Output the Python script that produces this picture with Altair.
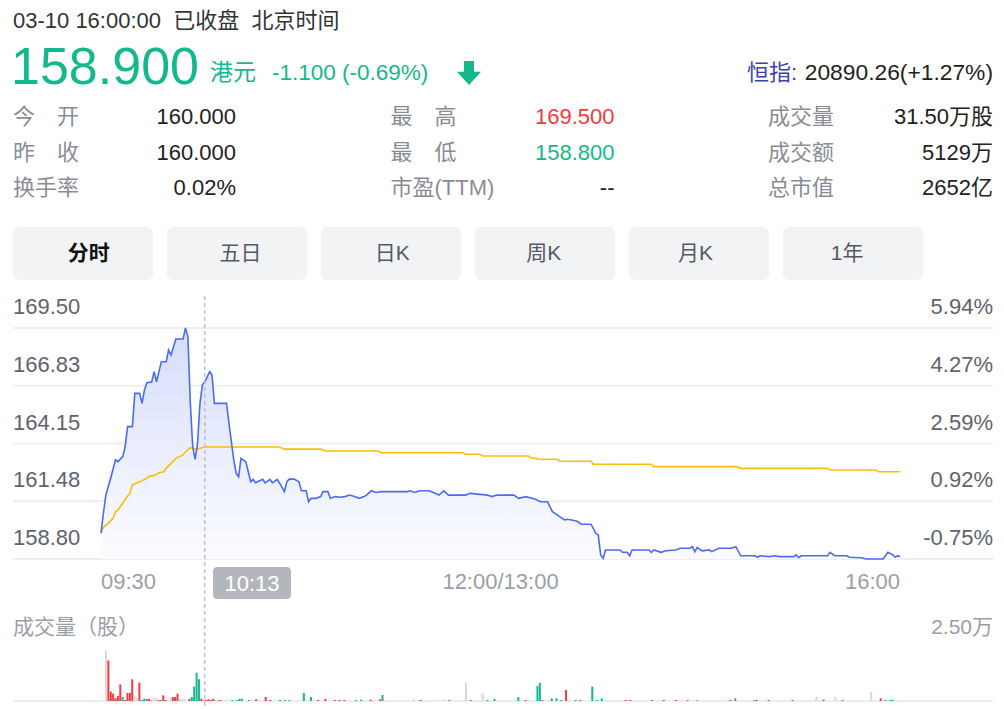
import altair as alt
import pandas as pd

FONT = "Liberation Sans, Arial, Noto Sans CJK SC, sans-serif"
GREEN = "#13b98c"
RED = "#f23b3b"
BLUE = "#4a6cf2"
YELLOW = "#fbbd08"
DARK = "#222222"
LABEL_GREY = "#8a8c94"
AXIS_GREY = "#5f636d"
TIME_GREY = "#9b9ea8"

# ---------------- header values ----------------
header_line = "03-10 16:00:00\u00a0\u00a0已收盘\u00a0\u00a0北京时间"
last_price = "158.900"
currency = "港元"
change_text = "-1.100 (-0.69%)"
index_name = "恒指:"
index_value = "20890.26(+1.27%)"

stat_labels = ["今\u3000开", "昨\u3000收", "换手率",
               "最\u3000高", "最\u3000低", "市盈(TTM)",
               "成交量", "成交额", "总市值"]
stat_values = ["160.000", "160.000", "0.02%",
               "169.500", "158.800", "--",
               "31.50万股", "5129万", "2652亿"]
stat_value_colors = [DARK, DARK, DARK, RED, GREEN, DARK, DARK, DARK, DARK]
stat_col = [0, 0, 0, 1, 1, 1, 2, 2, 2]
stat_row = [0, 1, 2, 0, 1, 2, 0, 1, 2]

tabs = ["分时", "五日", "日K", "周K", "月K", "1年"]
active_tab = "分时"

# ---------------- chart axes ----------------
price_ticks = [158.80, 161.48, 164.15, 166.83, 169.50]
pct_ticks = ["-0.75%", "0.92%", "2.59%", "4.27%", "5.94%"]
time_labels = ["09:30", "12:00/13:00", "16:00"]
time_label_pos = [0, 165.5, 331]
cursor_minute = 43
cursor_label = "10:13"
volume_title = "成交量（股）"
volume_max_label = "2.50万"

# ---------------- series (minute index, value) ----------------
price_points = [
    (0, 160.00), (1, 160.92), (2, 161.76), (4, 162.54), (6, 163.39), (7, 163.31),
    (9, 163.54), (10, 164.00), (11, 164.93), (13, 164.93), (14, 166.47), (16, 166.47),
    (17, 166.01), (18, 166.63), (19, 166.97), (21, 167.00), (22, 167.48), (23, 167.01),
    (25, 167.94), (27, 167.94), (28, 168.48), (29, 168.25), (31, 168.99), (34, 168.99),
    (35, 169.50), (36, 169.10), (37, 166.02), (38, 164.00), (39, 163.42), (40, 164.16),
    (41, 166.01), (42, 166.86), (43, 167.01), (44, 167.24), (45, 167.48), (46, 167.32),
    (47, 166.01), (52, 166.01), (53, 165.09), (55, 163.39), (56, 162.77), (57, 162.61),
    (58, 163.46), (60, 163.31), (61, 162.84), (62, 162.38), (63, 162.49), (64, 162.33),
    (67, 162.49), (68, 162.33), (70, 162.49), (71, 162.33), (73, 162.49), (74, 162.31),
    (76, 161.92), (77, 162.38), (78, 162.50), (80, 162.50), (82, 162.38), (83, 161.96),
    (85, 161.96), (86, 161.45), (87, 161.61), (89, 161.61), (91, 161.69), (92, 161.92),
    (94, 161.92), (95, 161.61), (97, 161.69), (99, 161.66), (101, 161.69), (103, 161.76),
    (105, 161.69), (107, 161.61), (109, 161.69), (110, 161.76), (112, 161.96), (114, 161.88),
    (116, 161.92), (120, 161.92), (127, 161.92), (128, 161.96), (130, 161.88), (132, 161.96),
    (136, 161.96), (140, 161.76), (142, 161.96), (144, 161.76), (151, 161.76), (153, 161.84),
    (160, 161.76), (162, 161.69), (164, 161.76), (171, 161.76), (173, 161.61), (176, 161.69),
    (180, 161.57), (182, 161.45), (185, 161.45), (187, 160.99), (189, 160.84), (190, 160.76),
    (192, 160.61), (193, 160.64), (195, 160.61), (197, 160.56), (199, 160.41), (203, 160.41),
    (205, 159.99), (206, 159.91), (207, 158.99), (208, 158.83), (209, 159.22), (215, 159.22),
    (216, 159.11), (218, 159.11), (219, 158.95), (220, 159.22), (227, 159.22), (228, 159.11),
    (229, 159.22), (232, 159.11), (234, 159.18), (238, 159.22), (240, 159.30), (244, 159.30),
    (245, 159.37), (246, 159.14), (247, 159.34), (249, 159.18), (252, 159.22), (253, 159.14),
    (256, 159.30), (261, 159.30), (263, 159.37), (265, 158.95), (271, 158.95), (272, 158.88),
    (273, 158.95), (277, 158.91), (279, 158.95), (281, 158.91), (287, 158.91), (288, 158.99),
    (289, 158.86), (290, 158.95), (301, 158.95), (302, 159.11), (304, 158.95), (309, 158.95),
    (310, 158.88), (315, 158.86), (317, 158.80), (324, 158.80), (326, 159.11), (328, 158.99),
    (329, 158.88), (330, 158.95), (331, 158.90),
]

avg_points = [
    (0, 160.00), (1, 160.27), (3, 160.45), (5, 160.69), (6, 160.99), (7, 161.07),
    (9, 161.38), (11, 161.72), (12, 161.84), (13, 162.23), (15, 162.33), (17, 162.43),
    (19, 162.54), (20, 162.64), (22, 162.66), (24, 162.80), (26, 162.84), (27, 163.00),
    (29, 163.23), (31, 163.46), (34, 163.62), (35, 163.77), (37, 163.96), (39, 163.88),
    (41, 163.93), (43, 163.99), (74, 163.99), (76, 163.89), (91, 163.89), (93, 163.80),
    (115, 163.80), (116, 163.72), (150, 163.72), (151, 163.65), (157, 163.65), (158, 163.57),
    (177, 163.57), (178, 163.49), (182, 163.42), (189, 163.42), (190, 163.33), (203, 163.33),
    (204, 163.19), (228, 163.19), (229, 163.08), (263, 163.08), (265, 163.00), (301, 163.00),
    (302, 162.92), (321, 162.92), (322, 162.84), (331, 162.84),
]

volume_bars = [
    (0, 22600, "flat"), (1, 18100, "up"), (2, 4200, "up"), (3, 3300, "up"), (4, 1200, "up"),
    (5, 2200, "up"), (6, 7400, "up"), (7, 1800, "down"), (8, 450, "up"), (9, 3600, "up"),
    (10, 3600, "up"), (11, 9700, "up"), (12, 2200, "flat"), (13, 1500, "flat"), (14, 8200, "up"),
    (15, 450, "down"), (16, 1000, "down"), (17, 1000, "down"), (18, 1000, "up"), (19, 300, "up"),
    (20, 1500, "flat"), (21, 1200, "flat"), (22, 450, "up"), (23, 450, "down"), (24, 2500, "up"),
    (25, 450, "up"), (27, 1500, "flat"), (28, 1800, "up"), (29, 1800, "up"), (30, 3300, "up"),
    (31, 1000, "flat"), (32, 900, "flat"), (33, 900, "flat"), (35, 1000, "up"), (36, 1800, "down"),
    (37, 6400, "down"), (38, 12600, "down"), (39, 9700, "down"), (40, 1000, "up"), (41, 200, "up"),
    (42, 450, "up"), (43, 750, "up"), (44, 450, "up"), (45, 1000, "up"), (46, 200, "down"),
    (47, 200, "down"), (48, 450, "up"), (53, 450, "down"), (55, 450, "down"), (56, 1000, "down"),
    (57, 1000, "down"), (60, 450, "down"), (63, 750, "up"), (67, 1800, "up"), (69, 450, "up"),
    (73, 450, "down"), (75, 450, "down"), (77, 450, "down"), (83, 3600, "down"), (86, 1800, "down"),
    (89, 450, "up"), (92, 1000, "up"), (96, 450, "up"), (98, 450, "up"), (100, 450, "up"),
    (105, 450, "down"), (107, 600, "down"), (111, 600, "up"), (115, 750, "up"), (116, 2700, "down"),
    (129, 750, "flat"), (132, 450, "up"), (138, 600, "flat"), (142, 750, "flat"), (144, 450, "down"),
    (151, 8200, "flat"), (153, 450, "up"), (158, 3600, "flat"), (160, 450, "down"), (163, 900, "down"),
    (173, 1800, "down"), (176, 450, "up"), (181, 6700, "down"), (182, 8200, "down"), (183, 450, "up"),
    (187, 1200, "down"), (189, 1200, "down"), (191, 450, "down"), (193, 4900, "up"), (197, 450, "down"),
    (199, 450, "down"), (204, 6400, "down"), (206, 450, "down"), (208, 1200, "down"), (218, 450, "up"),
    (220, 450, "up"), (229, 450, "up"), (234, 450, "up"), (239, 450, "up"), (244, 450, "up"),
    (248, 300, "down"), (262, 450, "up"), (264, 1200, "down"), (272, 450, "down"), (273, 450, "up"),
    (278, 450, "up"), (288, 450, "up"), (298, 1800, "flat"), (301, 600, "up"), (306, 1800, "flat"),
    (309, 450, "down"), (315, 300, "flat"), (321, 4100, "flat"), (325, 1200, "up"), (327, 450, "down"),
    (329, 450, "down"), (330, 600, "down"),
]

# ---------------- scales ----------------
X_MIN = alt.Scale(domain=[0, 331], range=[101, 900], nice=False, zero=False)
Y_PRICE = alt.Scale(domain=[158.8, 169.5], range=[559, 328], nice=False, zero=False)
Y_VOL = alt.Scale(domain=[0, 25000], range=[701, 645], nice=False)
X_TAB = alt.Scale(domain=tabs, range=[13, 923], paddingInner=14 / 154, paddingOuter=0)


def txt(s, x, y, size=22, color=DARK, align="left", baseline="middle", weight="normal"):
    return alt.Chart(pd.DataFrame({"t": [s]})).mark_text(
        align=align, baseline=baseline, fontSize=size, color=color, font=FONT, fontWeight=weight
    ).encode(x=alt.value(x), y=alt.value(y), text="t:N")


layers = []

# ---------------- header ----------------
layers.append(txt(header_line, 13, 21, 22, "#333333"))
layers.append(txt(last_price, 11, 84, 52, GREEN, baseline="alphabetic"))
layers.append(txt(currency, 210, 80, 23, GREEN, baseline="alphabetic"))
layers.append(txt(change_text, 272, 80, 22.5, GREEN, baseline="alphabetic"))
arrow = alt.Chart(pd.DataFrame({"a": [1]})).mark_point(
    shape="M-0.42,-1L0.42,-1L0.42,-0.1L1,-0.1L0,1L-1,-0.1L-0.42,-0.1Z",
    filled=True, fill=GREEN, strokeWidth=0, size=576, opacity=1,
).encode(x=alt.value(469), y=alt.value(73))
layers.append(arrow)
layers.append(txt(index_name, 747, 73, 22, "#3b40b3"))
layers.append(txt(index_value, 993, 73, 22.8, DARK, align="right"))

# ---------------- stats table ----------------
stats = pd.DataFrame({"lab": stat_labels, "val": stat_values, "c": stat_value_colors,
                      "col": stat_col, "row": stat_row})
Y_ROW = alt.Scale(domain=[0, 2], range=[117, 188])
layers.append(alt.Chart(stats).mark_text(align="left", baseline="middle", fontSize=22,
                                          color=LABEL_GREY, font=FONT).encode(
    x=alt.X("col:Q", scale=alt.Scale(domain=[0, 2], range=[13, 768]), axis=None),
    y=alt.Y("row:Q", scale=Y_ROW, axis=None), text="lab:N"))
layers.append(alt.Chart(stats).mark_text(align="right", baseline="middle", fontSize=22,
                                          font=FONT).encode(
    x=alt.X("col:Q", scale=alt.Scale(domain=[0, 2], range=[236, 993]), axis=None),
    y=alt.Y("row:Q", scale=Y_ROW, axis=None), text="val:N",
    color=alt.Color("c:N", scale=None, legend=None)))

# ---------------- tabs ----------------
tab_df = pd.DataFrame({"tab": tabs, "w": ["bold" if t == active_tab else "normal" for t in tabs]})
layers.append(alt.Chart(tab_df).mark_bar(color="#f2f3f5", cornerRadius=6).encode(
    x=alt.X("tab:N", scale=X_TAB, axis=None, sort=tabs),
    y=alt.value(227), y2=alt.value(280)))
layers.append(alt.Chart(tab_df[tab_df.tab != active_tab]).mark_text(
    baseline="middle", align="center", fontSize=21, color="#555965", font=FONT).encode(
    x=alt.X("tab:N", scale=X_TAB, axis=None, sort=tabs), y=alt.value(254), text="tab:N"))
layers.append(alt.Chart(tab_df[tab_df.tab == active_tab]).mark_text(
    baseline="middle", align="center", fontSize=21, color="#111111", font=FONT,
    fontWeight="bold").encode(
    x=alt.X("tab:N", scale=X_TAB, axis=None, sort=tabs), y=alt.value(254), text="tab:N"))

# ---------------- price chart ----------------
ticks_df = pd.DataFrame({"p": price_ticks, "lbl": [f"{v:.2f}" for v in price_ticks], "pct": pct_ticks})
layers.append(alt.Chart(ticks_df).mark_rule(color="#eeeeef", strokeWidth=2).encode(
    y=alt.Y("p:Q", scale=Y_PRICE, axis=None), x=alt.value(13), x2=alt.value(993)))

price_df = pd.DataFrame(price_points, columns=["m", "p"])
avg_df = pd.DataFrame(avg_points, columns=["m", "p"])
grad = alt.Gradient(gradient="linear",
                    stops=[alt.GradientStop(color="#d5ddfb", offset=0),
                           alt.GradientStop(color="#fcfcff", offset=1)],
                    x1=1, x2=1, y1=0, y2=1)
layers.append(alt.Chart(price_df).mark_area(color=grad).encode(
    x=alt.X("m:Q", scale=X_MIN, axis=None),
    y=alt.Y("p:Q", scale=Y_PRICE, axis=None),
    y2=alt.datum(158.8)))
layers.append(alt.Chart(avg_df).mark_line(color=YELLOW, strokeWidth=1.6).encode(
    x=alt.X("m:Q", scale=X_MIN, axis=None),
    y=alt.Y("p:Q", scale=Y_PRICE, axis=None)))
layers.append(alt.Chart(price_df).mark_line(color=BLUE, strokeWidth=1.6).encode(
    x=alt.X("m:Q", scale=X_MIN, axis=None),
    y=alt.Y("p:Q", scale=Y_PRICE, axis=None)))

layers.append(alt.Chart(ticks_df).mark_text(align="left", baseline="middle", dy=-21,
                                             fontSize=22, color=AXIS_GREY, font=FONT).encode(
    x=alt.value(13), y=alt.Y("p:Q", scale=Y_PRICE, axis=None), text="lbl:N"))
layers.append(alt.Chart(ticks_df).mark_text(align="right", baseline="middle", dy=-21,
                                             fontSize=22, color=AXIS_GREY, font=FONT).encode(
    x=alt.value(993), y=alt.Y("p:Q", scale=Y_PRICE, axis=None), text="pct:N"))

# time labels
for lbl, pos, al in zip(time_labels, time_label_pos, ["left", "center", "right"]):
    layers.append(alt.Chart(pd.DataFrame({"m": [pos], "t": [lbl]})).mark_text(
        align=al, baseline="middle", fontSize=22, color=TIME_GREY, font=FONT).encode(
        x=alt.X("m:Q", scale=X_MIN, axis=None), y=alt.value(582), text="t:N"))

# cursor
layers.append(alt.Chart(pd.DataFrame({"m": [cursor_minute]})).mark_rule(
    color="#b9bbc0", strokeWidth=1.3, strokeDash=[4, 3]).encode(
    x=alt.X("m:Q", scale=X_MIN, axis=None), y=alt.value(296), y2=alt.value(709)))
layers.append(alt.Chart(pd.DataFrame({"a": [1]})).mark_rect(color="#b4b6bd", cornerRadius=4).encode(
    x=alt.value(213), x2=alt.value(291), y=alt.value(567), y2=alt.value(599)))
layers.append(txt(cursor_label, 252, 584, 22, "#ffffff", align="center"))

# ---------------- volume ----------------
layers.append(txt(volume_title, 13, 628, 21, TIME_GREY))
layers.append(txt(volume_max_label, 993, 628, 21, TIME_GREY, align="right"))
layers.append(alt.Chart(pd.DataFrame({"a": [1]})).mark_rule(color="#ededee", strokeWidth=2).encode(
    x=alt.value(13), x2=alt.value(993), y=alt.value(701)))
vol_df = pd.DataFrame(volume_bars, columns=["m", "v", "d"])
layers.append(alt.Chart(vol_df).mark_bar(width=2).encode(
    x=alt.X("m:Q", scale=X_MIN, axis=None),
    y=alt.Y("v:Q", scale=Y_VOL, axis=None),
    color=alt.Color("d:N", scale=alt.Scale(domain=["up", "down", "flat"],
                                           range=[RED, GREEN, "#d7d8dd"]), legend=None)))

chart = alt.layer(*layers).resolve_scale(
    x="independent", y="independent", color="independent"
).properties(
    width=1004, height=709, padding=0, autosize="none", background="white"
).configure_view(strokeWidth=0)

chart.save("out.html", embed_options={"renderer": "svg", "actions": False})
